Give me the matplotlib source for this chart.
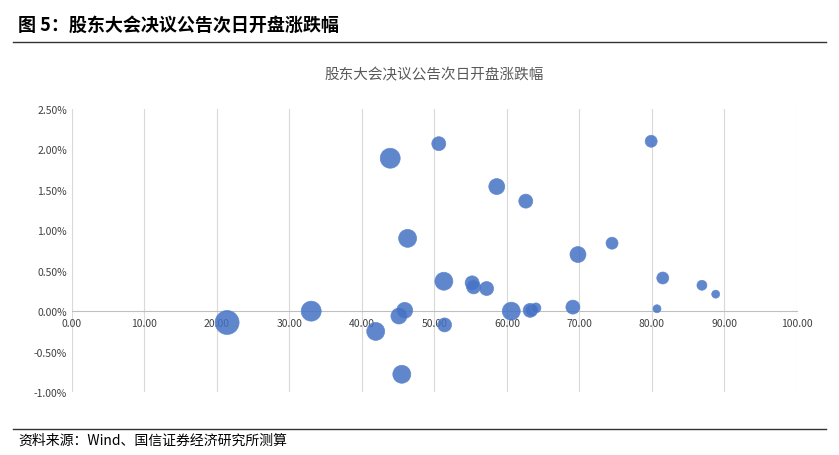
import matplotlib.pyplot as plt
from matplotlib.ticker import FuncFormatter

plt.rcParams['font.family'] = ['Noto Sans CJK SC', 'DejaVu Sans']

# days / holding ratio (x), next-day open change in % (y), bubble weight
x_vals = [21.4, 33.0, 41.9, 45.5, 43.9, 45.1, 45.9, 46.3, 50.6, 51.3, 51.4, 55.2, 55.4,
          57.2, 58.6, 60.6, 62.6, 63.2, 63.4, 64.0, 69.1, 69.8, 74.5, 79.9, 81.5, 80.7,
          86.9, 88.8]
y_vals = [-0.14, 0.0, -0.25, -0.78, 1.89, -0.06, 0.01, 0.90, 2.07, 0.37, -0.17, 0.35, 0.30,
          0.28, 1.54, 0.0, 1.36, 0.01, 0.01, 0.04, 0.05, 0.70, 0.84, 2.10, 0.41, 0.03,
          0.32, 0.21]
weights = [12, 10, 9, 9, 10, 8, 8, 9, 7, 9, 7, 7, 7, 7, 8, 9, 7, 7, 6, 5, 7, 8, 6, 6, 6, 4, 5, 4]

fig = plt.figure(figsize=(8.39, 4.56), dpi=100)

fig.text(0.022, 0.945, '图 5：股东大会决议公告次日开盘涨跌幅', fontsize=13, fontweight='bold', va='center')
fig.add_artist(plt.Line2D([0.015, 0.985], [0.905, 0.905], color='#333333', lw=1))
fig.add_artist(plt.Line2D([0.015, 0.985], [0.057, 0.057], color='#333333', lw=1))
fig.text(0.022, 0.033, '资料来源：Wind、国信证券经济研究所测算', fontsize=10, va='center')

ax = fig.add_axes([0.0858, 0.138, 0.864, 0.621])
sizes = [(1.44 * w) ** 2 for w in weights]
ax.scatter(x_vals, y_vals, s=sizes, color='#4472C4', alpha=0.85, edgecolors='#5b84cc', linewidths=0.5, zorder=3)

ax.set_xlim(0, 100)
ax.set_ylim(-1.0, 2.5)
ax.set_xticks(range(0, 101, 10))
ax.set_yticks([-1.0, -0.5, 0, 0.5, 1.0, 1.5, 2.0, 2.5])
ax.xaxis.set_major_formatter(FuncFormatter(lambda v, p: f'{v:.2f}'))
ax.yaxis.set_major_formatter(FuncFormatter(lambda v, p: f'{v:.2f}%'))
ax.grid(axis='x', color='#d9d9d9', lw=0.8, zorder=0)
for s in ['top', 'right', 'left']:
    ax.spines[s].set_visible(False)
ax.spines['bottom'].set_position(('data', 0))
ax.spines['bottom'].set_color('#bfbfbf')
ax.tick_params(length=0, labelsize=7.5, colors='#404040')
ax.tick_params(axis='x', pad=5)
ax.set_title('股东大会决议公告次日开盘涨跌幅', fontsize=10.5, color='#595959', pad=22)

fig.savefig('out.png', dpi=100)
